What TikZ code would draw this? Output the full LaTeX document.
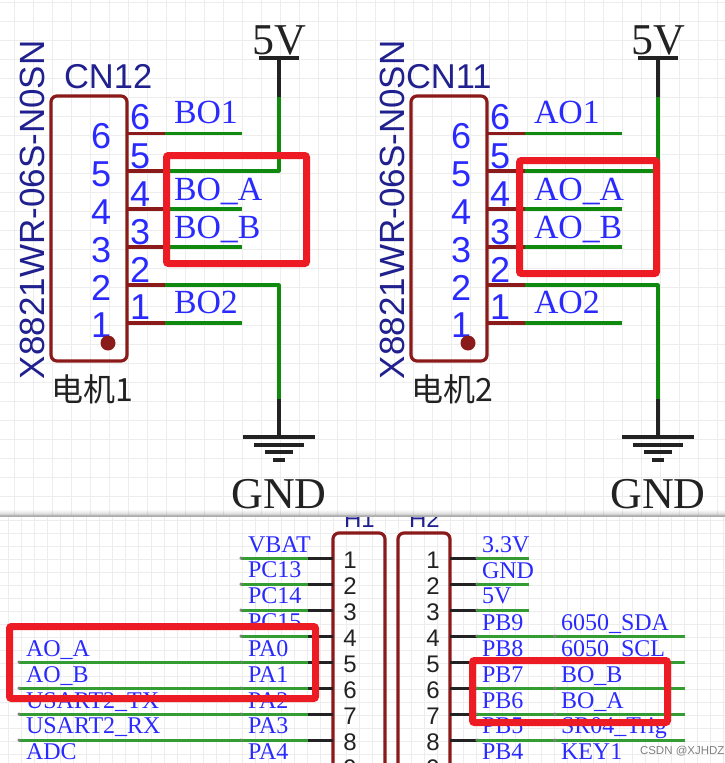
\documentclass[tikz,border=0pt]{standalone}
\usepackage{fontspec}
\setmainfont{Liberation Serif}
\setsansfont{Liberation Sans}
\newfontfamily\cjkfont{Noto Sans CJK SC}
\definecolor{netgreen}{HTML}{0F8A0F}
\definecolor{pinred}{HTML}{8B1A1A}
\definecolor{markred}{HTML}{ED1C24}
\definecolor{lblue}{HTML}{2A2AFF}
\definecolor{dblue}{HTML}{20208F}
\definecolor{gridc}{HTML}{EDEDED}
\definecolor{inkc}{HTML}{222222}
\tikzset{
  x=1pt,y=-1pt,
  txt/.style={inner sep=0pt,outer sep=0pt,anchor=base west},
  netlabel/.style={txt,font=\fontsize{33.8}{34}\selectfont,text=lblue},
  pinnum/.style={txt,font=\sffamily\fontsize{36}{36}\selectfont,text=lblue},
  partname/.style={txt,font=\sffamily\fontsize{34.5}{35}\selectfont,text=dblue},
  portname/.style={txt,font=\sffamily\fontsize{35}{35}\selectfont,text=dblue},
  power/.style={inner sep=0pt,outer sep=0pt,anchor=base,font=\fontsize{44}{44}\selectfont,text=inkc},
  smalllabel/.style={txt,font=\fontsize{24}{24}\selectfont,text=lblue},
  hnum/.style={inner sep=0pt,outer sep=0pt,anchor=base,font=\sffamily\fontsize{24}{24}\selectfont,text=inkc},
  partbody/.style={draw=pinred,line width=3.2pt,rounded corners=6pt,anchor=north west,inner sep=0pt,outer sep=0pt},
  stubline/.style={draw=pinred,line width=3.2pt},
  wire/.style={draw=netgreen,line width=3.2pt,line join=round},
  blk/.style={draw=inkc,line width=3.2pt},
  hstub/.style={draw=inkc,line width=3pt},
  hwire/.style={draw=netgreen!85!white,line width=3pt},
  redmark/.style={draw=markred,line width=7pt,rounded corners=2pt},
  gridl/.style={draw=gridc,line width=0.9pt},
  junc/.style={circle,fill=gray,inner sep=0pt,minimum size=3.5pt},
}
% #1 prefix, #2 body shift, #3 stub end, #4 wire end, #5 net x, #6 part, #7 letter, #8 motor no, #9 part x
\newcommand{\motorblock}[9]{%
  \node[partbody,minimum width=76pt,minimum height=265pt] (#1body) at ({51+#2},96) {};
  \foreach \n/\yy/\by/\iy in {6/133.5/129/148,5/171/168/186,4/209/206/224,3/247/244/262,2/285/282/300,1/323/319/337}{
    \coordinate (#1pin\n) at ({127+#2},\yy);
    \coordinate (#1stub\n) at (#3,\yy);
    \coordinate (#1end\n) at (#4,\yy);
    \node[pinnum] (#1out\n) at ({130+#2},\by) {\n};
    \node[pinnum] (#1in\n) at ({91+#2},\iy) {\n};
    \draw[stubline] (#1pin\n) -- (#1stub\n);
  }
  \draw[wire] (#1stub6) -- (#1end6);
  \draw[wire] (#1stub4) -- (#1end4);
  \draw[wire] (#1stub3) -- (#1end3);
  \draw[wire] (#1stub1) -- (#1end1);
  % 5V
  \coordinate (#1vtop) at (#5,58);
  \coordinate (#1vjoin) at (#5,97);
  \draw[wire] (#1stub5) -| (#1vjoin);
  \draw[blk] (#1vjoin) -- (#1vtop);
  \draw[blk] ({#5-20},58) -- ({#5+20},58);
  \node[power] (#1vcc) at (#5,54) {5V};
  % GND
  \coordinate (#1gtop) at (#5,399);
  \coordinate (#1gnd) at (#5,437);
  \draw[wire] (#1stub2) -| (#1gtop);
  \draw[blk] (#1gtop) -- (#1gnd);
  \draw[blk] ({#5-36},437) -- ({#5+36},437);
  \draw[blk] ({#5-25},445) -- ({#5+25},445);
  \draw[blk] ({#5-14},452) -- ({#5+14},452);
  \draw[blk] ({#5-6},460) -- ({#5+6},460);
  \node[power] (#1gname) at (#5,508) {GND};
  \node[netlabel] (#1l1) at ({174+#2},123) {#71};
  \node[netlabel] (#1la) at ({174+#2},200) {#7\_A};
  \node[netlabel] (#1lb) at ({174+#2},238) {#7\_B};
  \node[netlabel] (#1l2) at ({174+#2},313) {#72};
  \node[partname] (#1name) at (#9,88) {#6};
  \node[portname,rotate=90] (#1port) at ({44+#2},379) {X8821WR-06S-N0SN};
  \node[txt,font=\cjkfont\fontsize{32}{32}\selectfont,text=inkc] (#1motor) at ({51+#2},401) {电机#8};
  \fill[pinred] ({108+#2},343) circle (7.5);
}
\begin{document}
\begin{tikzpicture}
\useasboundingbox (0,0) rectangle (725,763);
\fill[white] (0,0) rectangle (725,763);
% top grid
\foreach \gx in {14,33,...,725} \draw[gridl] (\gx,0) -- (\gx,515);
\foreach \gy in {2,21,...,515} \draw[gridl] (0,\gy) -- (725,\gy);
\motorblock{a}{0}{165}{242}{279}{CN12}{BO}{1}{64}
\motorblock{b}{360}{525}{622}{658}{CN11}{AO}{2}{406}
\draw[redmark] (166.5,155.5) rectangle (306.5,263.5);
\draw[redmark] (519.5,160.5) rectangle (656.5,273.5);
% separator
\foreach \sy/\so in {510/.02,511/.05,512/.08,513/.12,514/.17,515/.24,516/.32}
  \fill[black,opacity=\so] (0,\sy) rectangle (725,\sy+1);
% lower panel
\begin{scope}
\clip (0,517) rectangle (725,763);
\fill[white] (0,517) rectangle (725,763);
\foreach \gx in {8,21,...,725} \draw[gridl] (\gx,517) -- (\gx,763);
\foreach \gy in {520,533,...,763} \draw[gridl] (0,\gy) -- (725,\gy);
\node[txt,font=\sffamily\fontsize{24}{24}\selectfont,text=dblue] (hone) at (344,527) {H1};
\node[txt,font=\sffamily\fontsize{24}{24}\selectfont,text=dblue] (htwo) at (409,527) {H2};
\node[partbody,minimum width=52pt,minimum height=300pt] (hbodya) at (333,533) {};
\node[partbody,minimum width=52pt,minimum height=300pt] (hbodyb) at (398,533) {};
\foreach \n/\yy in {1/558,2/584,3/610,4/636,5/662,6/688,7/714,8/740,9/766}{
  \node[hnum] (pa\n) at (350,{\yy+10.5}) {\n};
  \node[hnum] (pb\n) at (433,{\yy+10.5}) {\n};
  \coordinate (ha\n) at (333,\yy);
  \coordinate (hb\n) at (398+52,\yy);
  \coordinate (hwa\n) at (308,\yy);
  \coordinate (hla\n) at (241,\yy);
  \coordinate (hwb\n) at (477,\yy);
  \coordinate (hrb\n) at (529,\yy);
  \coordinate (hrc\n) at (555,\yy);
  \coordinate (hre\n) at (685,\yy);
  \coordinate (hle\n) at (19,\yy);
  \draw[hstub] (ha\n) -- (hwa\n);
  \draw[hstub] (hb\n) -- (hwb\n);
}
\foreach \n in {1,...,8}{
  \draw[hwire] (hwa\n) -- (hla\n);
  \node[junc] (ja\n) at (hla\n) {};
  \node[junc] (jb\n) at (hwb\n) {};
}
\foreach \n in {1,2,3} \draw[hwire] (hwb\n) -- (hrb\n);
\foreach \n in {4,...,8}{
  \draw[hwire] (hwb\n) -- (hre\n);
  \node[junc] (jc\n) at (hrc\n) {};
}
\foreach \n in {5,...,8}{
  \draw[hwire] (hla\n) -- (hle\n);
  \node[junc] (jd\n) at (hle\n) {};
}
\foreach \t/\yy [count=\i] in {VBAT/552,PC13/577,PC14/603,PC15/629,PA0/656,PA1/682,PA2/708,PA3/733,PA4/759}
  \node[smalllabel] (lp\i) at (248,\yy) {\t};
\node[smalllabel] (ll1) at (26,656) {AO\_A};
\node[smalllabel] (ll2) at (26,682) {AO\_B};
\node[smalllabel] (ll3) at (26,708) {USART2\_TX};
\node[smalllabel] (ll4) at (26,733) {USART2\_RX};
\node[smalllabel] (ll5) at (26,759) {ADC};
\foreach \t/\yy [count=\i] in {3.3V/552,GND/578,5V/603,PB9/630,PB8/656,PB7/682,PB6/708,PB5/733,PB4/759}
  \node[smalllabel] (rp\i) at (482,\yy) {\t};
\node[smalllabel] (rl1) at (561,630) {6050\_SDA};
\node[smalllabel] (rl2) at (561,656) {6050\_SCL};
\node[smalllabel] (rl3) at (561,682) {BO\_B};
\node[smalllabel] (rl4) at (561,708) {BO\_A};
\node[smalllabel] (rl5) at (561,733) {SR04\_Trig};
\node[smalllabel] (rl6) at (561,759) {KEY1};
\draw[redmark] (9.5,626.5) rectangle (315.5,698.5);
\draw[redmark] (472.5,660.5) rectangle (667.5,722.5);
\end{scope}
\node[txt,font=\sffamily\fontsize{11.5}{12}\selectfont,text=gray] (wm) at (640,754) {CSDN @XJHDZ};
\end{tikzpicture}
\end{document}
